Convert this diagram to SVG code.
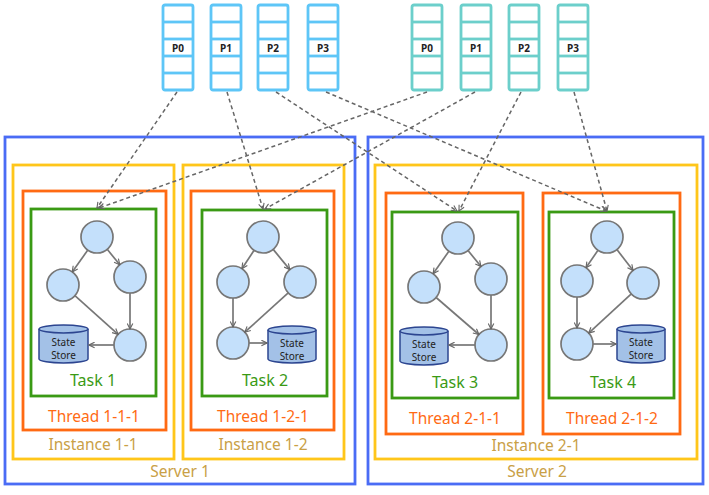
<svg xmlns="http://www.w3.org/2000/svg" width="709" height="495" viewBox="0 0 709 495">
<defs>
<marker id="chev" viewBox="0 0 10 10" refX="9" refY="5" markerWidth="7" markerHeight="7" orient="auto" markerUnits="userSpaceOnUse">
<path d="M1,1 L9,5 L1,9" fill="none" stroke="#666" stroke-width="1.6"/>
</marker>
<g id="part">
<rect x="0" y="0" width="30" height="85" rx="2"/>
<line x1="0" y1="17" x2="30" y2="17"/>
<line x1="0" y1="34" x2="30" y2="34"/>
<line x1="0" y1="51" x2="30" y2="51"/>
<line x1="0" y1="68" x2="30" y2="68"/>
</g>
</defs>
<style>
.srv{fill:none;stroke:#4a6cf5;stroke-width:2.8}
.ins{fill:none;stroke:#ffc61a;stroke-width:2.8}
.thr{fill:none;stroke:#ff6a13;stroke-width:2.8}
.tsk{fill:none;stroke:#3a9a14;stroke-width:2.8}
.pb{fill:#fff;stroke:#5ec6f7;stroke-width:2.8}
.pt{fill:#fff;stroke:#6ccfcb;stroke-width:2.8}
.pl{font-family:"Noto Sans",sans-serif;font-size:10px;font-weight:bold;fill:#222;text-anchor:middle}
.nd{fill:#c4e0fb;stroke:#777;stroke-width:1.7}
.cy{fill:#a3c1e7;stroke:#2c4590;stroke-width:1.5}
.cyl{font-family:"Noto Sans",sans-serif;font-size:10px;fill:#222;text-anchor:middle}
.e{stroke:#777;stroke-width:1.7;fill:none;marker-end:url(#chev)}
.d{stroke:#666;stroke-width:1.5;stroke-dasharray:4 3;fill:none;marker-end:url(#chev)}
.lt{font-family:"Noto Sans",sans-serif;font-size:16px;fill:#3a9a14;text-anchor:middle}
.lh{font-family:"Noto Sans",sans-serif;font-size:15.5px;fill:#ff6a13;text-anchor:middle}
.li{font-family:"Noto Sans",sans-serif;font-size:15.5px;fill:#c9a046;text-anchor:middle}
</style>

<g id="server1">
<rect class="srv" x="5" y="137" width="350" height="347"/>
<text class="li" x="180" y="477">Server 1</text>
</g>
<g id="server2">
<rect class="srv" x="368" y="137" width="335" height="347"/>
<text class="li" x="537" y="477">Server 2</text>
</g>
<g id="instance11">
<rect class="ins" x="13" y="165" width="161" height="294"/>
<text class="li" x="93" y="450">Instance 1-1</text>
</g>
<g id="instance12">
<rect class="ins" x="183" y="165" width="161" height="294"/>
<text class="li" x="263" y="450">Instance 1-2</text>
</g>
<g id="instance21">
<rect class="ins" x="375" y="165" width="322" height="294"/>
<text class="li" x="536" y="451">Instance 2-1</text>
</g>
<g id="thread111">
<rect class="thr" x="23" y="191" width="143" height="239"/>
<text class="lh" x="94" y="422">Thread 1-1-1</text>
</g>
<g id="thread121">
<rect class="thr" x="191" y="191" width="143" height="239"/>
<text class="lh" x="263" y="422">Thread 1-2-1</text>
</g>
<g id="thread211">
<rect class="thr" x="386" y="193" width="137" height="241"/>
<text class="lh" x="455" y="424">Thread 2-1-1</text>
</g>
<g id="thread212">
<rect class="thr" x="543" y="193" width="137" height="241"/>
<text class="lh" x="612" y="424">Thread 2-1-2</text>
</g>

<g id="task1">
<rect class="tsk" x="31" y="209" width="125" height="187"/>
<circle class="nd" cx="97" cy="237" r="16"/>
<circle class="nd" cx="63" cy="285" r="16"/>
<circle class="nd" cx="130" cy="277" r="16"/>
<circle class="nd" cx="130" cy="345" r="16"/>
<path class="cy" d="M39,329 A24.5,4 0 0,1 88,329 V359 A24.5,4 0 0,1 39,359 Z"/>
<path class="cy" d="M39,329 A24.5,4 0 0,0 88,329" fill="none"/>
<text class="cyl" x="63.5" y="346">State</text>
<text class="cyl" x="63.5" y="359">Store</text>
<path class="e" d="M87.8,250.1 L72.2,271.9"/>
<path class="e" d="M107.2,249.3 L119.8,264.7"/>
<path class="e" d="M74.9,295.7 L118.1,334.3"/>
<path class="e" d="M130,293 L130,329"/>
<path class="e" d="M114,345 L89,345"/>
<text class="lt" x="93" y="386">Task 1</text>
</g>

<g id="task2">
<rect class="tsk" x="202" y="210" width="125" height="186"/>
<circle class="nd" cx="263" cy="237" r="16"/>
<circle class="nd" cx="233" cy="282" r="16"/>
<circle class="nd" cx="300" cy="282" r="16"/>
<circle class="nd" cx="233" cy="343" r="16"/>
<path class="cy" d="M268,330 A24,4 0 0,1 316,330 V359 A24,4 0 0,1 268,359 Z"/>
<path class="cy" d="M268,330 A24,4 0 0,0 316,330" fill="none"/>
<text class="cyl" x="292" y="347">State</text>
<text class="cyl" x="292" y="360">Store</text>
<path class="e" d="M254.1,250.3 L241.9,268.7"/>
<path class="e" d="M273.2,249.4 L289.8,269.6"/>
<path class="e" d="M233,298 L233,327"/>
<path class="e" d="M288.2,292.8 L244.8,332.2"/>
<path class="e" d="M249,343 L267,343"/>
<text class="lt" x="265" y="386">Task 2</text>
</g>

<g id="task3">
<rect class="tsk" x="392" y="212" width="126" height="186"/>
<circle class="nd" cx="458" cy="238" r="16"/>
<circle class="nd" cx="424" cy="287" r="16"/>
<circle class="nd" cx="491" cy="279" r="16"/>
<circle class="nd" cx="491" cy="345" r="16"/>
<path class="cy" d="M400,331 A24,4 0 0,1 448,331 V361 A24,4 0 0,1 400,361 Z"/>
<path class="cy" d="M400,331 A24,4 0 0,0 448,331" fill="none"/>
<text class="cyl" x="424" y="348">State</text>
<text class="cyl" x="424" y="361">Store</text>
<path class="e" d="M448.9,251.2 L433.1,273.8"/>
<path class="e" d="M468,250.5 L481,266.5"/>
<path class="e" d="M436.1,297.5 L478.9,334.5"/>
<path class="e" d="M491,295 L491,329"/>
<path class="e" d="M475,345 L449,345"/>
<text class="lt" x="455" y="388">Task 3</text>
</g>

<g id="task4">
<rect class="tsk" x="549" y="212" width="125" height="186"/>
<circle class="nd" cx="607" cy="237" r="16"/>
<circle class="nd" cx="577" cy="281" r="16"/>
<circle class="nd" cx="643" cy="283" r="16"/>
<circle class="nd" cx="577" cy="344" r="16"/>
<path class="cy" d="M617,329 A24,4 0 0,1 665,329 V359 A24,4 0 0,1 617,359 Z"/>
<path class="cy" d="M617,329 A24,4 0 0,0 665,329" fill="none"/>
<text class="cyl" x="641" y="346">State</text>
<text class="cyl" x="641" y="359">Store</text>
<path class="e" d="M598,250.2 L586,267.8"/>
<path class="e" d="M616.9,249.6 L633.1,270.4"/>
<path class="e" d="M577,297 L577,328"/>
<path class="e" d="M631.3,293.9 L588.7,333.1"/>
<path class="e" d="M593,344 L616,344"/>
<text class="lt" x="613" y="388">Task 4</text>
</g>

<g id="topicA">
<use href="#part" class="pb" x="163" y="5"/>
<use href="#part" class="pb" x="211" y="5"/>
<use href="#part" class="pb" x="258" y="5"/>
<use href="#part" class="pb" x="308" y="5"/>
<text class="pl" x="178" y="52">P0</text>
<text class="pl" x="226" y="52">P1</text>
<text class="pl" x="273" y="52">P2</text>
<text class="pl" x="323" y="52">P3</text>
</g>
<g id="topicB">
<use href="#part" class="pt" x="412" y="5"/>
<use href="#part" class="pt" x="461" y="5"/>
<use href="#part" class="pt" x="509" y="5"/>
<use href="#part" class="pt" x="558" y="5"/>
<text class="pl" x="427" y="52">P0</text>
<text class="pl" x="476" y="52">P1</text>
<text class="pl" x="524" y="52">P2</text>
<text class="pl" x="573" y="52">P3</text>
</g>

<g id="connectors">
<path class="d" d="M177,92 L97,208"/>
<path class="d" d="M227,92 L263,209"/>
<path class="d" d="M276,92 L457,211"/>
<path class="d" d="M326,92 L606,211"/>
<path class="d" d="M427,92 L99,208"/>
<path class="d" d="M475,92 L265,209"/>
<path class="d" d="M521,92 L459,211"/>
<path class="d" d="M574,92 L607,211"/>
</g>
</svg>
